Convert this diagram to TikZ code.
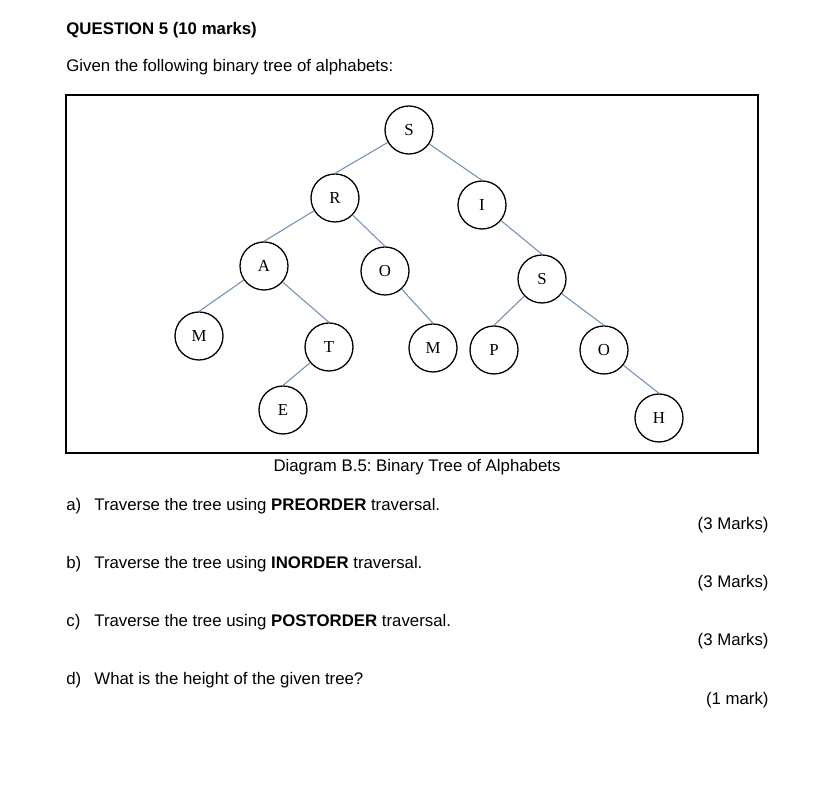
\documentclass[tikz,border=0pt]{standalone}
\usepackage{fontspec}
\setmainfont{Liberation Sans}
\newfontfamily\treefont{Liberation Serif}
\usepackage{xcolor}
\definecolor{branchblue}{RGB}{115,148,185}
\frenchspacing

\begin{document}
\begin{tikzpicture}[x=0.5pt,y=-0.5pt,
    every node/.style={font=\fontsize{8.4}{10}\selectfont},
    letter/.style={draw, circle, line width=0.65pt, minimum size=24pt, inner sep=0pt,
                   font=\treefont\fontsize{8.4}{10}\selectfont},
    branch/.style={draw=branchblue, line width=0.55pt},
    line/.style={anchor=base west, inner sep=0pt},
    marks/.style={anchor=base east, inner sep=0pt}]

    \useasboundingbox (0,0) rectangle (820,785);

    % heading
    \node[line, font=\bfseries\fontsize{8.4}{10}\selectfont] (title) at (66,35) {QUESTION 5 (10 marks)};
    \node[line] (intro) at (66,72) {Given the following binary tree of alphabets:};

    % frame round the tree
    \draw[line width=0.75pt] (66,95) rectangle (758,453);

    % tree nodes
    \node[letter] (s)  at (409,130) {S};
    \node[letter] (r)  at (335,198) {R};
    \node[letter] (i)  at (482,205) {I};
    \node[letter] (a)  at (264,266) {A};
    \node[letter] (o)  at (385,271) {O};
    \node[letter] (ss) at (542,279) {S};
    \node[letter] (m)  at (199,336) {M};
    \node[letter] (t)  at (329,347) {T};
    \node[letter] (mm) at (433,348) {M};
    \node[letter] (p)  at (494,350) {P};
    \node[letter] (oo) at (604,350) {O};
    \node[letter] (e)  at (283,410) {E};
    \node[letter] (h)  at (659,418) {H};

    % branches, parent rim to top of child
    \draw[branch] (s) -- (r.north);
    \draw[branch] (s) -- (i.north);
    \draw[branch] (r) -- (a.north);
    \draw[branch] (r) -- (o.north);
    \draw[branch] (i) -- (ss.north);
    \draw[branch] (a) -- (m.north);
    \draw[branch] (a) -- (t.north);
    \draw[branch] (o) -- (mm.north);
    \draw[branch] (ss) -- (p.north);
    \draw[branch] (ss) -- (oo.north);
    \draw[branch] (t) -- (e.north);
    \draw[branch] (oo) -- (h.north);

    \node[anchor=base, inner sep=0pt] (caption) at (417,472) {Diagram B.5: Binary Tree of Alphabets};

    % questions
    \node[line] (la) at (66,511) {a)};
    \node[line] (qa) at (94,511) {Traverse the tree using \textbf{PREORDER} traversal.};
    \node[marks] (ma) at (769,530) {(3 Marks)};
    \node[line] (lb) at (66,569) {b)};
    \node[line] (qb) at (94,569) {Traverse the tree using \textbf{INORDER} traversal.};
    \node[marks] (mb) at (769,588) {(3 Marks)};
    \node[line] (lc) at (66,627) {c)};
    \node[line] (qc) at (94,627) {Traverse the tree using \textbf{POSTORDER} traversal.};
    \node[marks] (mc) at (769,646) {(3 Marks)};
    \node[line] (ld) at (66,685) {d)};
    \node[line] (qd) at (94,685) {What is the height of the given tree?};
    \node[marks] (md) at (769,705) {(1 mark)};

\end{tikzpicture}
\end{document}
